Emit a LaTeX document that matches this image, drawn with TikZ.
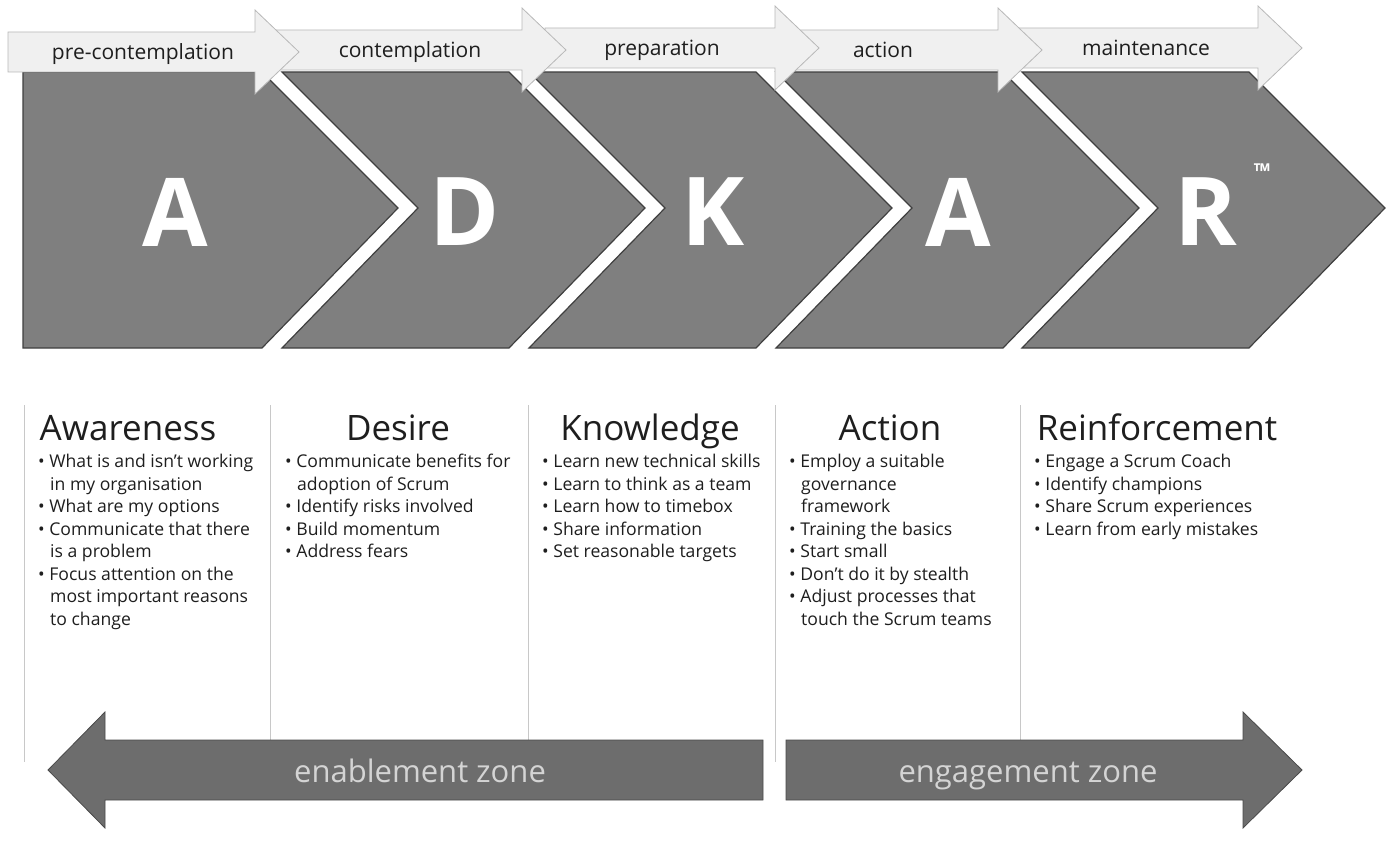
\documentclass[tikz,border=0pt]{standalone}
\usepackage{fontspec}
\setmainfont{Open Sans}
\begin{document}
\begin{tikzpicture}[x=1pt,y=-1pt,
  chev/.style={fill=chevgray,draw=chevedge,line width=1.2pt},
  toparr/.style={fill=toparrfill,draw=toparredge,line width=0.8pt},
  botarr/.style={fill=botgray,draw=botedge,line width=0.8pt},
  sep/.style={draw=sepgray,line width=0.8pt},
  big/.style={text=white,font=\fontsize{95}{95}\selectfont\bfseries},
  head/.style={text=txt,font=\fontsize{35}{36}\selectfont,anchor=base},
  body/.style={text=txt,font=\fontsize{17.6}{22.5}\selectfont,align=left,anchor=north west,inner sep=0pt},
  stage/.style={text=txt,font=\fontsize{21}{22}\selectfont,anchor=base},
  zone/.style={text=zonetxt,font=\fontsize{31}{32}\selectfont,anchor=base}]
\definecolor{chevgray}{HTML}{7F7F7F}
\definecolor{chevedge}{HTML}{404040}
\definecolor{toparrfill}{HTML}{F0F0F0}
\definecolor{toparredge}{HTML}{B8B8B8}
\definecolor{botgray}{HTML}{6D6D6D}
\definecolor{botedge}{HTML}{4A4A4A}
\definecolor{sepgray}{HTML}{C8C8C8}
\definecolor{txt}{HTML}{1E1E1E}
\definecolor{zonetxt}{HTML}{D4D4D4}
\newcommand{\ind}{\hspace*{12pt}}
\useasboundingbox (0,0) rectangle (1392,842);
% chevrons
\path[chev] (23,72) -- (262,72) -- (398,208) -- (262,348) -- (23,348) -- cycle;
\foreach \t in {645,892,1139,1385}{
  \pgfmathsetmacro{\n}{\t-247+20}
  \path[chev] (\n-136,72) -- (\t-136,72) -- (\t,208) -- (\t-136,348) -- (\n-136,348) -- (\n,208) -- cycle;
}
\node[big] (lA) at (175,212) {A};
\node[big] (lD) at (465,212) {D};
\node[big] (lK) at (713,212) {K};
\node[big] (lA2) at (958,212) {A};
\node[big] (lR) at (1206,212) {R};
\node[text=white,font=\fontsize{22}{22}\selectfont\bfseries] (tm) at (1262,172) {™};
% top arrows (reverse order so earlier lies on top)
\foreach \a/\h/\yc in {1015/1258/48, 790/998/50, 545/775/48, 275/522/50, 8/255/52}{
  \path[toparr] (\a,\yc-20) -- (\h,\yc-20) -- (\h,\yc-42) -- (\h+44,\yc) -- (\h,\yc+42) -- (\h,\yc+20) -- (\a,\yc+20) -- cycle;
}
\node[stage] (s1) at (143,60) {pre-contemplation};
\node[stage] (s2) at (410,58) {contemplation};
\node[stage] (s3) at (662,56) {preparation};
\node[stage] (s4) at (883,58) {action};
\node[stage] (s5) at (1146,56) {maintenance};
% separators
\draw[sep] (24,405) -- (24,762);
\draw[sep] (270,405) -- (270,740);
\draw[sep] (528,405) -- (528,740);
\draw[sep] (775,405) -- (775,762);
\draw[sep] (1020,405) -- (1020,740);
% headings
\node[head] (h1) at (128,440) {Awareness};
\node[head] (h2) at (398,440) {Desire};
\node[head] (h3) at (650,440) {Knowledge};
\node[head] (h4) at (890,440) {Action};
\node[head] (h5) at (1157,440) {Reinforcement};
% bodies
\node[body] (b1) at (38,454) {• What is and isn’t working\\\ind in my organisation\\• What are my options\\• Communicate that there\\\ind is a problem\\• Focus attention on the\\\ind most important reasons\\\ind to change};
\node[body] (b2) at (285,454) {• Communicate benefits for\\\ind adoption of Scrum\\• Identify risks involved\\• Build momentum\\• Address fears};
\node[body] (b3) at (542,454) {• Learn new technical skills\\• Learn to think as a team\\• Learn how to timebox\\• Share information\\• Set reasonable targets};
\node[body] (b4) at (789,454) {• Employ a suitable\\\ind governance\\\ind framework\\• Training the basics\\• Start small\\• Don’t do it by stealth\\• Adjust processes that\\\ind touch the Scrum teams};
\node[body] (b5) at (1034,454) {• Engage a Scrum Coach\\• Identify champions\\• Share Scrum experiences\\• Learn from early mistakes};
% bottom arrows
\path[botarr] (763,740) -- (105,740) -- (105,712) -- (48,770) -- (105,828) -- (105,800) -- (763,800) -- cycle;
\path[botarr] (786,740) -- (1243,740) -- (1243,712) -- (1302,770) -- (1243,828) -- (1243,800) -- (786,800) -- cycle;
\node[zone] (z1) at (420,782) {enablement zone};
\node[zone] (z2) at (1028,782) {engagement zone};
\end{tikzpicture}
\end{document}
